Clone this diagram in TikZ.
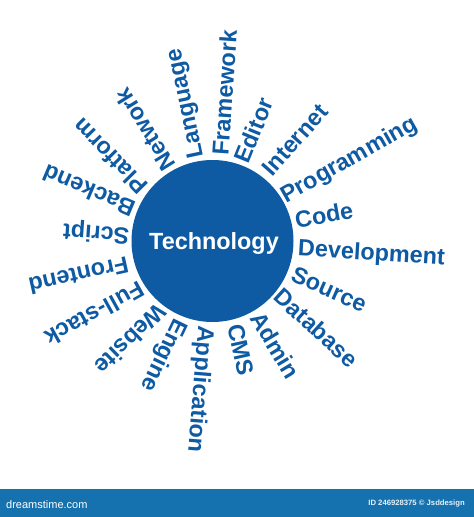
\documentclass[tikz,border=0pt]{standalone}
\usepackage{fontspec}
\setmainfont{Liberation Sans}
\definecolor{tblue}{RGB}{14,90,163}
\definecolor{barblue}{RGB}{22,114,174}
\begin{document}
\begin{tikzpicture}[x=1pt,y=-1pt,
  word/.style={font=\fontsize{23.4}{23.4}\selectfont\bfseries, text=tblue,
    inner sep=0pt, text height=16.75pt, text depth=0pt, anchor=west},
  hubstyle/.style={circle, fill=tblue, minimum size=162pt, inner sep=0pt},
  bartext/.style={text=white, inner sep=0pt}]
\useasboundingbox (0,0) rectangle (474,517);
\fill[white] (0,0) rectangle (474,517);
\node[hubstyle] (hub) at (212.5,241) {};
\node[word, anchor=center, text=white] (tech) at (214,241) {Technology};
\node[word, rotate=-3.5]  (w1)  at (298,247.5)   {Development};
\node[word, rotate=10]    (w2)  at (295,220)     {Code};
\node[word, rotate=29.5]  (w3)  at (282,196)     {Programming};
\node[word, rotate=48.5]  (w4)  at (266,172)     {Internet};
\node[word, rotate=68]    (w5)  at (240.6,162)   {Editor};
\node[word, rotate=86]    (w6)  at (220,155)     {Framework};
\node[word, rotate=102]   (w7)  at (195,158)     {Language};
\node[word, rotate=122]   (w8)  at (169.5,169)   {Network};
\node[word, rotate=134.5] (w9)  at (143.5,190.6) {Platform};
\node[word, rotate=157]   (w10) at (133.8,210.3) {Backend};
\node[word, rotate=176]   (w11) at (129.3,236.5) {Script};
\node[word, rotate=192.5] (w12) at (128.5,264.5) {Frontend};
\node[word, rotate=209]   (w13) at (142.8,287.5) {Full-stack};
\node[word, rotate=224.4] (w14) at (162.9,308.3) {Website};
\node[word, rotate=244.3] (w15) at (181.9,320.5) {Engine};
\node[word, rotate=265.4] (w16) at (206.7,325.6) {Application};
\node[word, rotate=282.5] (w17) at (235.2,324.3) {CMS};
\node[word, rotate=301]   (w18) at (256.6,313.8) {Admin};
\node[word, rotate=317.5] (w19) at (277.8,292.3) {Database};
\node[word, rotate=336]   (w20) at (292.9,272.8) {Source};
\fill[barblue] (0,489) rectangle (474,517);
\node[bartext, anchor=west, font=\fontsize{11}{11}\selectfont] (dt) at (6,505) {dreamstime.com};
\node[bartext, anchor=east, text=white!90!barblue, font=\fontsize{7.7}{7.7}\selectfont\bfseries] (id) at (465,503.5) {ID 246928375 © Jsddesign};
\end{tikzpicture}
\end{document}
